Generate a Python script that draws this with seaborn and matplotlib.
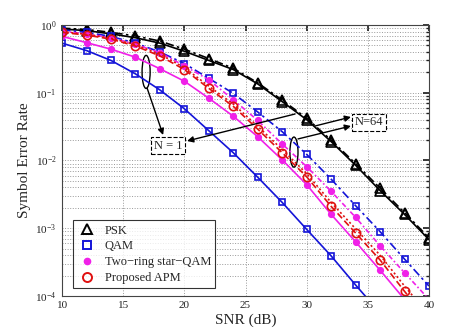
import numpy as np
import pandas as pd
import matplotlib
matplotlib.use("Agg")
import matplotlib.pyplot as plt
from matplotlib.lines import Line2D
from matplotlib.patches import Ellipse
import seaborn as sns

snr = [10, 12, 14, 16, 18, 20, 22, 24, 26, 28, 30, 32, 34, 36, 38, 40]

psk_n1 = [0.87, 0.83, 0.74, 0.65, 0.54, 0.41, 0.30, 0.22, 0.135, 0.074, 0.040, 0.019, 8.5e-3, 3.6e-3, 1.6e-3, 6.8e-4]
psk_n64 = [0.90, 0.86, 0.78, 0.69, 0.58, 0.44, 0.32, 0.23, 0.14, 0.078, 0.042, 0.020, 9.0e-3, 3.9e-3, 1.7e-3, 7.2e-4]
qam_n1 = [0.54, 0.42, 0.30, 0.19, 0.11, 0.058, 0.0275, 0.013, 5.65e-3, 2.4e-3, 9.6e-4, 3.9e-4, 1.45e-4, 5.6e-5, 2.2e-5, 8.5e-6]
qam_n64 = [0.85, 0.78, 0.68, 0.54, 0.40, 0.27, 0.163, 0.098, 0.052, 0.0266, 0.0123, 5.3e-3, 2.15e-3, 8.9e-4, 3.5e-4, 1.4e-4]
ring_n1 = [0.68, 0.55, 0.44, 0.335, 0.226, 0.148, 0.083, 0.045, 0.0224, 0.0102, 4.4e-3, 1.6e-3, 6.3e-4, 2.4e-4, 8.9e-5, 3.3e-5]
ring_n64 = [0.81, 0.74, 0.65, 0.52, 0.39, 0.25, 0.155, 0.079, 0.039, 0.0175, 8.1e-3, 3.5e-3, 1.45e-3, 5.5e-4, 2.2e-4, 8.9e-5]
apm_n1 = [0.78, 0.71, 0.62, 0.49, 0.35, 0.22, 0.116, 0.063, 0.029, 0.013, 5.75e-3, 2.1e-3, 8.5e-4, 3.4e-4, 1.17e-4, 4.2e-5]
apm_n64 = [0.80, 0.73, 0.64, 0.51, 0.37, 0.235, 0.125, 0.068, 0.032, 0.0145, 6.4e-3, 2.4e-3, 9.8e-4, 4.0e-4, 1.4e-4, 5.2e-5]

legend_labels = ["PSK", "QAM", "Two\u2212ring star\u2212QAM", "Proposed APM"]
x_ticks = [10, 15, 20, 25, 30, 35, 40]

sns.set_theme(style="white")
plt.rcParams['font.family'] = ['Liberation Serif', 'DejaVu Serif']
plt.rcParams['mathtext.fontset'] = 'stix'

fig = plt.figure(figsize=(4.74, 3.34), dpi=100)
ax = fig.add_axes([0.131, 0.114, 0.774, 0.811])

black = "#000000"
blue = "#1414d8"
mag = "#f020e8"
red = "#e01010"

series = [
    (psk_n1, black, "-", "^", 6.5, "none"),
    (psk_n64, black, (0, (5, 2, 1.5, 2)), "^", 6.5, "none"),
    (qam_n1, blue, "-", "s", 5.0, "none"),
    (qam_n64, blue, (0, (5, 2, 1.5, 2)), "s", 5.0, "none"),
    (ring_n1, mag, "-", "o", 4.0, mag),
    (ring_n64, mag, (0, (3, 1.5, 1, 1.5)), "o", 4.0, mag),
    (apm_n1, red, (0, (4, 2)), "o", 6.0, "none"),
    (apm_n64, red, (0, (1.2, 1.5)), None, 0, "none"),
]

for vals, col, ls, mk, ms, mfc in series:
    df = pd.DataFrame({"snr": snr, "ser": vals})
    kw = dict(color=col, linestyle=ls, linewidth=1.2)
    if mk is not None:
        kw.update(marker=mk, markersize=ms, markerfacecolor=mfc,
                  markeredgecolor=col, markeredgewidth=1.2)
    sns.lineplot(data=df, x="snr", y="ser", ax=ax, estimator=None, sort=False, **kw)

ax.set_yscale("log")
ax.set_xlim(10, 40)
ax.set_ylim(1e-4, 1)
ax.set_xticks(x_ticks)
ax.set_xticklabels([str(t) for t in x_ticks])
ax.grid(True, which="major", linestyle=":", color="#999999", linewidth=0.7)
ax.grid(True, which="minor", axis="y", linestyle=":", color="#999999", linewidth=0.7)
ax.tick_params(which="both", direction="in", top=True, right=True, labelsize=8, colors="#222222")
ax.tick_params(which="major", length=4, pad=4)
ax.tick_params(which="minor", length=2)
for s in ax.spines.values():
    s.set_color("#444444")
    s.set_linewidth(0.8)
ax.set_xlabel("SNR (dB)", fontsize=11, labelpad=2)
ax.set_ylabel("Symbol Error Rate", fontsize=11, labelpad=3)

# legend (markers only)
handles = [
    Line2D([], [], ls="none", marker="^", ms=7, mfc="none", mec=black, mew=1.4),
    Line2D([], [], ls="none", marker="s", ms=5.5, mfc="none", mec=blue, mew=1.4),
    Line2D([], [], ls="none", marker="o", ms=4.5, mfc=mag, mec=mag),
    Line2D([], [], ls="none", marker="o", ms=6.5, mfc="none", mec=red, mew=1.4),
]
leg = ax.legend(handles, legend_labels, loc="lower left", bbox_to_anchor=(0.029, 0.028),
                borderaxespad=0, fontsize=9, frameon=True, fancybox=False,
                labelspacing=0.3, handletextpad=0.6, borderpad=0.35, handlelength=1.6)
leg.get_frame().set_edgecolor("black")
leg.get_frame().set_linewidth(0.8)

# ellipses (axes fraction)
ax.add_patch(Ellipse((0.229, 0.827), 0.022, 0.122, transform=ax.transAxes,
                     fill=False, ec="black", lw=1.0))
ax.add_patch(Ellipse((0.632, 0.531), 0.022, 0.111, transform=ax.transAxes,
                     fill=False, ec="black", lw=1.0))

ap = dict(arrowstyle="-|>", color="black", lw=1.0, mutation_scale=9, shrinkA=0, shrinkB=0)
box = dict(boxstyle="square,pad=0.2", fc="white", ec="black", ls="--", lw=0.8)
ax.annotate("", xy=(18.26, 0.0238), xytext=(16.95, 0.1175), arrowprops=ap)
ax.annotate("", xy=(20.22, 0.0194), xytext=(29.05, 0.0486), arrowprops=ap)
ax.text(18.67, 0.0164, "N = 1", ha="center", va="center", fontsize=9, bbox=box)
ax.annotate("", xy=(33.62, 0.0439), xytext=(30.68, 0.0323), arrowprops=ap)
ax.annotate("", xy=(33.62, 0.0323), xytext=(29.29, 0.0208), arrowprops=ap)
ax.text(35.1, 0.037, "N=64", ha="center", va="center", fontsize=9, bbox=box)

fig.savefig("out.png", dpi=100)
